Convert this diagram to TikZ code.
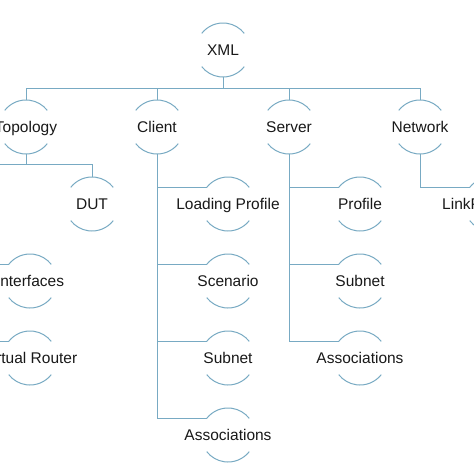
\documentclass[tikz,border=0pt]{standalone}
\usepackage{fontspec}
\setmainfont{Liberation Sans}
\usetikzlibrary{calc}

\definecolor{wire}{RGB}{120,170,195}
\definecolor{ink}{RGB}{25,25,25}

\tikzset{
  tag/.style={font=\fontsize{15.5}{18}\selectfont, text=ink, inner sep=0pt,
              text height=11.1pt, text depth=0pt},
  rim/.style={draw=wire, line width=1pt},
  conn/.style={draw=wire, line width=1pt}
}

\begin{document}
\begin{tikzpicture}[x=1pt, y=-1pt]
  \useasboundingbox (0,0) rectangle (474,474);
  \fill[white] (0,0) rectangle (474,474);
  \clip (0,0) rectangle (474,474);

  %-- root
  \node[tag] (xml)        at (223, 50)  {XML};

  %-- first level
  \node[tag] (topology)   at (26,  127) {Topology};
  \node[tag] (client)     at (157, 127) {Client};
  \node[tag] (server)     at (289, 127) {Server};
  \node[tag] (network)    at (420, 127) {Network};

  %-- Topology
  \coordinate (hidden)    at (-41, 204);
  \node[tag] (dut)        at (92,  204) {DUT};
  \node[tag] (interfaces) at (30,  281) {Interfaces};
  \node[tag] (vrouter)    at (30,  358) {Virtual Router};

  %-- Client
  \node[tag] (loading)    at (228, 204) {Loading Profile};
  \node[tag] (scenario)   at (228, 281) {Scenario};
  \node[tag] (csubnet)    at (228, 358) {Subnet};
  \node[tag] (cassoc)     at (228, 435) {Associations};

  %-- Server
  \node[tag] (profile)    at (360, 204) {Profile};
  \node[tag] (ssubnet)    at (360, 281) {Subnet};
  \node[tag] (sassoc)     at (360, 358) {Associations};

  %-- Network
  \coordinate (linkc)     at (491, 204);
  \node[tag, anchor=west] (link) at (442, 204) {LinkP};

  %-- arcs
  \foreach \n in {xml,topology,client,server,network,dut,interfaces,vrouter,
                  loading,scenario,csubnet,cassoc,profile,ssubnet,sassoc,linkc}
    \draw[rim] ($(\n.center)+(38:27)$) arc[start angle=38, end angle=142, radius=27]
               ($(\n.center)+(218:27)$) arc[start angle=218, end angle=322, radius=27];

  %-- connectors
  \foreach \c in {topology,client,server,network}
    \draw[conn] ($(xml.center)+(0,27)$) |- ($(\c.center)+(0,-39)$) -- ($(\c.center)+(0,-27)$);
  \foreach \c in {dut,hidden}
    \draw[conn] ($(topology.center)+(0,27)$) |- ($(\c.center)+(0,-40)$) -- ($(\c.center)+(0,-27)$);
  \foreach \c in {interfaces,vrouter}
    \draw[conn] ($(hidden)+(0,27)$) |- ($(\c.center)+(-21.3,-16.6)$);
  \foreach \c in {loading,scenario,csubnet,cassoc}
    \draw[conn] ($(client.center)+(0,27)$) |- ($(\c.center)+(-21.3,-16.6)$);
  \foreach \c in {profile,ssubnet,sassoc}
    \draw[conn] ($(server.center)+(0,27)$) |- ($(\c.center)+(-21.3,-16.6)$);
  \draw[conn] ($(network.center)+(0,27)$) |- ($(linkc)+(-21.3,-16.6)$);
\end{tikzpicture}
\end{document}
